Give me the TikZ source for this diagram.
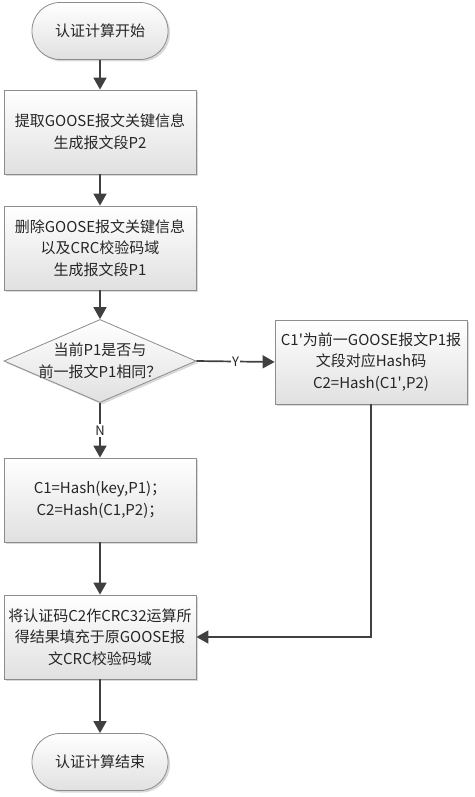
\documentclass[tikz,border=0pt]{standalone}
\usepackage{fontspec}
\setmainfont{Noto Sans CJK SC}
\usetikzlibrary{arrows.meta, shapes.geometric, shadows, positioning}

\tikzset{
	flowline/.style={draw=black!75, line width=1.7pt, -{Triangle[length=12pt,width=13pt]}},
	shaded/.style={draw=black!45, line width=0.8pt, top color=white, bottom color=black!12,
		drop shadow={shadow xshift=2pt, shadow yshift=-2pt, opacity=0.3}},
	procbox/.style={shaded, rectangle, minimum width=192pt, minimum height=84pt, align=center,
		font=\fontsize{15}{21.5}\selectfont, text=black!85},
	termbox/.style={shaded, rectangle, rounded corners=28pt, minimum width=136pt, minimum height=57pt,
		font=\fontsize{15}{21.5}\selectfont, text=black!85},
	decision/.style={shaded, diamond, inner sep=0pt, minimum width=192pt, minimum height=83pt},
	branchlab/.style={fill=white, inner sep=1.5pt, font=\fontsize{13}{15}\selectfont, text=black!85}
}

\begin{document}
\begin{tikzpicture}[x=1pt, y=-1pt]
	\useasboundingbox (0,0) rectangle (474,797);

	% main column
	\node[termbox] (start) at (100,31) {认证计算开始};
	\node[procbox] (getP2) at (100,132) {提取GOOSE报文关键信息\\生成报文段P2};
	\node[procbox] (getP1) at (100,248) {删除GOOSE报文关键信息\\以及CRC校验码域\\生成报文段P1};
	\node[decision] (cmp) at (100,361) {};
	\node[align=center, font=\fontsize{15}{21.5}\selectfont, text=black!85] (cmptext) at (cmp.center) {当前P1是否与\\前一报文P1相同？};
	\node[procbox] (hashN) at (100,500) {C1=Hash(key,P1)；\\C2=Hash(C1,P2)；};
	\node[procbox] (fill) at (100,637) {将认证码C2作CRC32运算所\\得结果填充于原GOOSE报\\文CRC校验码域};
	\node[termbox] (stop) at (100,762) {认证计算结束};

	% right branch
	\node[procbox] (hashY) at (371,362) {C1\textquotesingle 为前一GOOSE报文P1报\\文段对应Hash码\\C2=Hash(C1\textquotesingle,P2)};

	% connectors
	\draw[flowline] (start) -- (getP2);
	\draw[flowline] (getP2) -- (getP1);
	\draw[flowline] (getP1) -- (cmp);
	\draw[flowline] (cmp.east) -- node[branchlab] (ylab) {Y} (hashY.west);
	\draw[flowline] (cmp.south) -- node[branchlab] (nlab) {N} (hashN.north);
	\draw[flowline] (hashN) -- (fill);
	\draw[flowline] (hashY.south) |- (fill.east);
	\draw[flowline] (fill) -- (stop);
\end{tikzpicture}
\end{document}
